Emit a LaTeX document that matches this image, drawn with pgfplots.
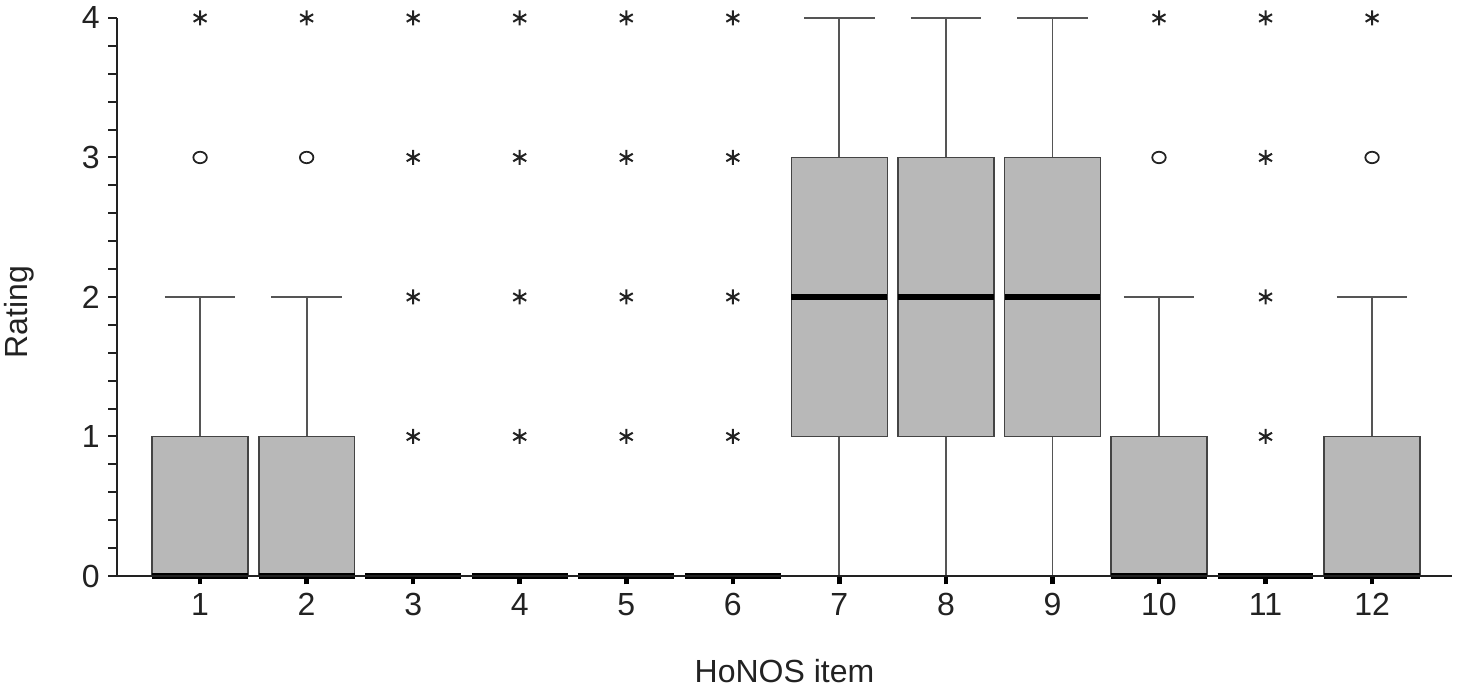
\documentclass[border=0pt]{standalone}
\usepackage{fontspec}
\setmainfont{Liberation Sans}
\usepackage{pgfplots}
\pgfplotsset{compat=1.18}
\usepgfplotslibrary{statistics}
\definecolor{boxgray}{HTML}{B8B8B8}
\definecolor{edgegray}{HTML}{444444}
\definecolor{whiskgray}{HTML}{555555}
\definecolor{inkgray}{HTML}{222222}

% one SPSS-style box: position, lower whisker, Q1, median, Q3, upper whisker
\newcommand{\honosbox}[6]{%
  \addplot[hbox, boxplot prepared={draw position=#1, lower whisker=#2,
    lower quartile=#3, median=#4, upper quartile=#5, upper whisker=#6}]
    coordinates {};}

\begin{document}
\begin{tikzpicture}
\path[use as bounding box] (-46.8pt,-44pt) rectangle (538pt,230.4pt);
\begin{axis}[
    at={(0,0)}, anchor=south west,
    scale only axis, width=534pt, height=223.2pt,
    xmin=0.22, xmax=12.75, ymin=0, ymax=4,
    axis x line*=bottom, axis y line*=left,
    axis line style={-, inkgray, line width=0.8pt},
    xtick={1,...,12}, ytick={0,...,4}, minor y tick num=4,
    tick align=outside,
    major tick length=3.4pt, minor tick length=3.4pt,
    x tick style={line width=1.8pt, black},
    y tick style={line width=0.8pt, inkgray},
    ticklabel style={font=\fontsize{12.8}{15}\selectfont, text=inkgray},
    /pgf/number format/assume math mode=true,
    xlabel={HoNOS item}, ylabel={Rating},
    label style={font=\fontsize{12.8}{15}\selectfont, text=inkgray},
    xlabel style={at={(axis description cs:0.5,-0.19)}, anchor=base},
    ylabel style={at={(axis description cs:-0.0674,0.473)}, anchor=base},
    clip=false, axis on top,
    boxplot/draw direction=y,
    boxplot/box extend=0.9, boxplot/whisker extend=0.66,
    hbox/.style={draw=edgegray, fill=boxgray, line width=0.65pt, solid,
        boxplot/every whisker/.style={draw=whiskgray, line width=0.7pt},
        boxplot/every median/.style={draw=black, line width=2.2pt}},
]

\honosbox{1}{0}{0}{0}{1}{2}
\honosbox{2}{0}{0}{0}{1}{2}
\honosbox{3}{0}{0}{0}{0}{0}
\honosbox{4}{0}{0}{0}{0}{0}
\honosbox{5}{0}{0}{0}{0}{0}
\honosbox{6}{0}{0}{0}{0}{0}
\honosbox{7}{0}{1}{2}{3}{4}
\honosbox{8}{0}{1}{2}{3}{4}
\honosbox{9}{0}{1}{2}{3}{4}
\honosbox{10}{0}{0}{0}{1}{2}
\honosbox{11}{0}{0}{0}{0}{0}
\honosbox{12}{0}{0}{0}{1}{2}

% outliers (o) and extremes (*)
\addplot[only marks, mark=o, mark size=2.7pt,
    mark options={inkgray, line width=0.7pt, yscale=0.85}]
    coordinates {(1,3) (2,3) (10,3) (12,3)};
\addplot[only marks, mark=asterisk, mark size=3pt,
    mark options={inkgray, line width=0.8pt}]
    coordinates {
    (1,4) (2,4)
    (3,1) (3,2) (3,3) (3,4)
    (4,1) (4,2) (4,3) (4,4)
    (5,1) (5,2) (5,3) (5,4)
    (6,1) (6,2) (6,3) (6,4)
    (10,4)
    (11,1) (11,2) (11,3) (11,4)
    (12,4)
};

\end{axis}
\end{tikzpicture}
\end{document}
